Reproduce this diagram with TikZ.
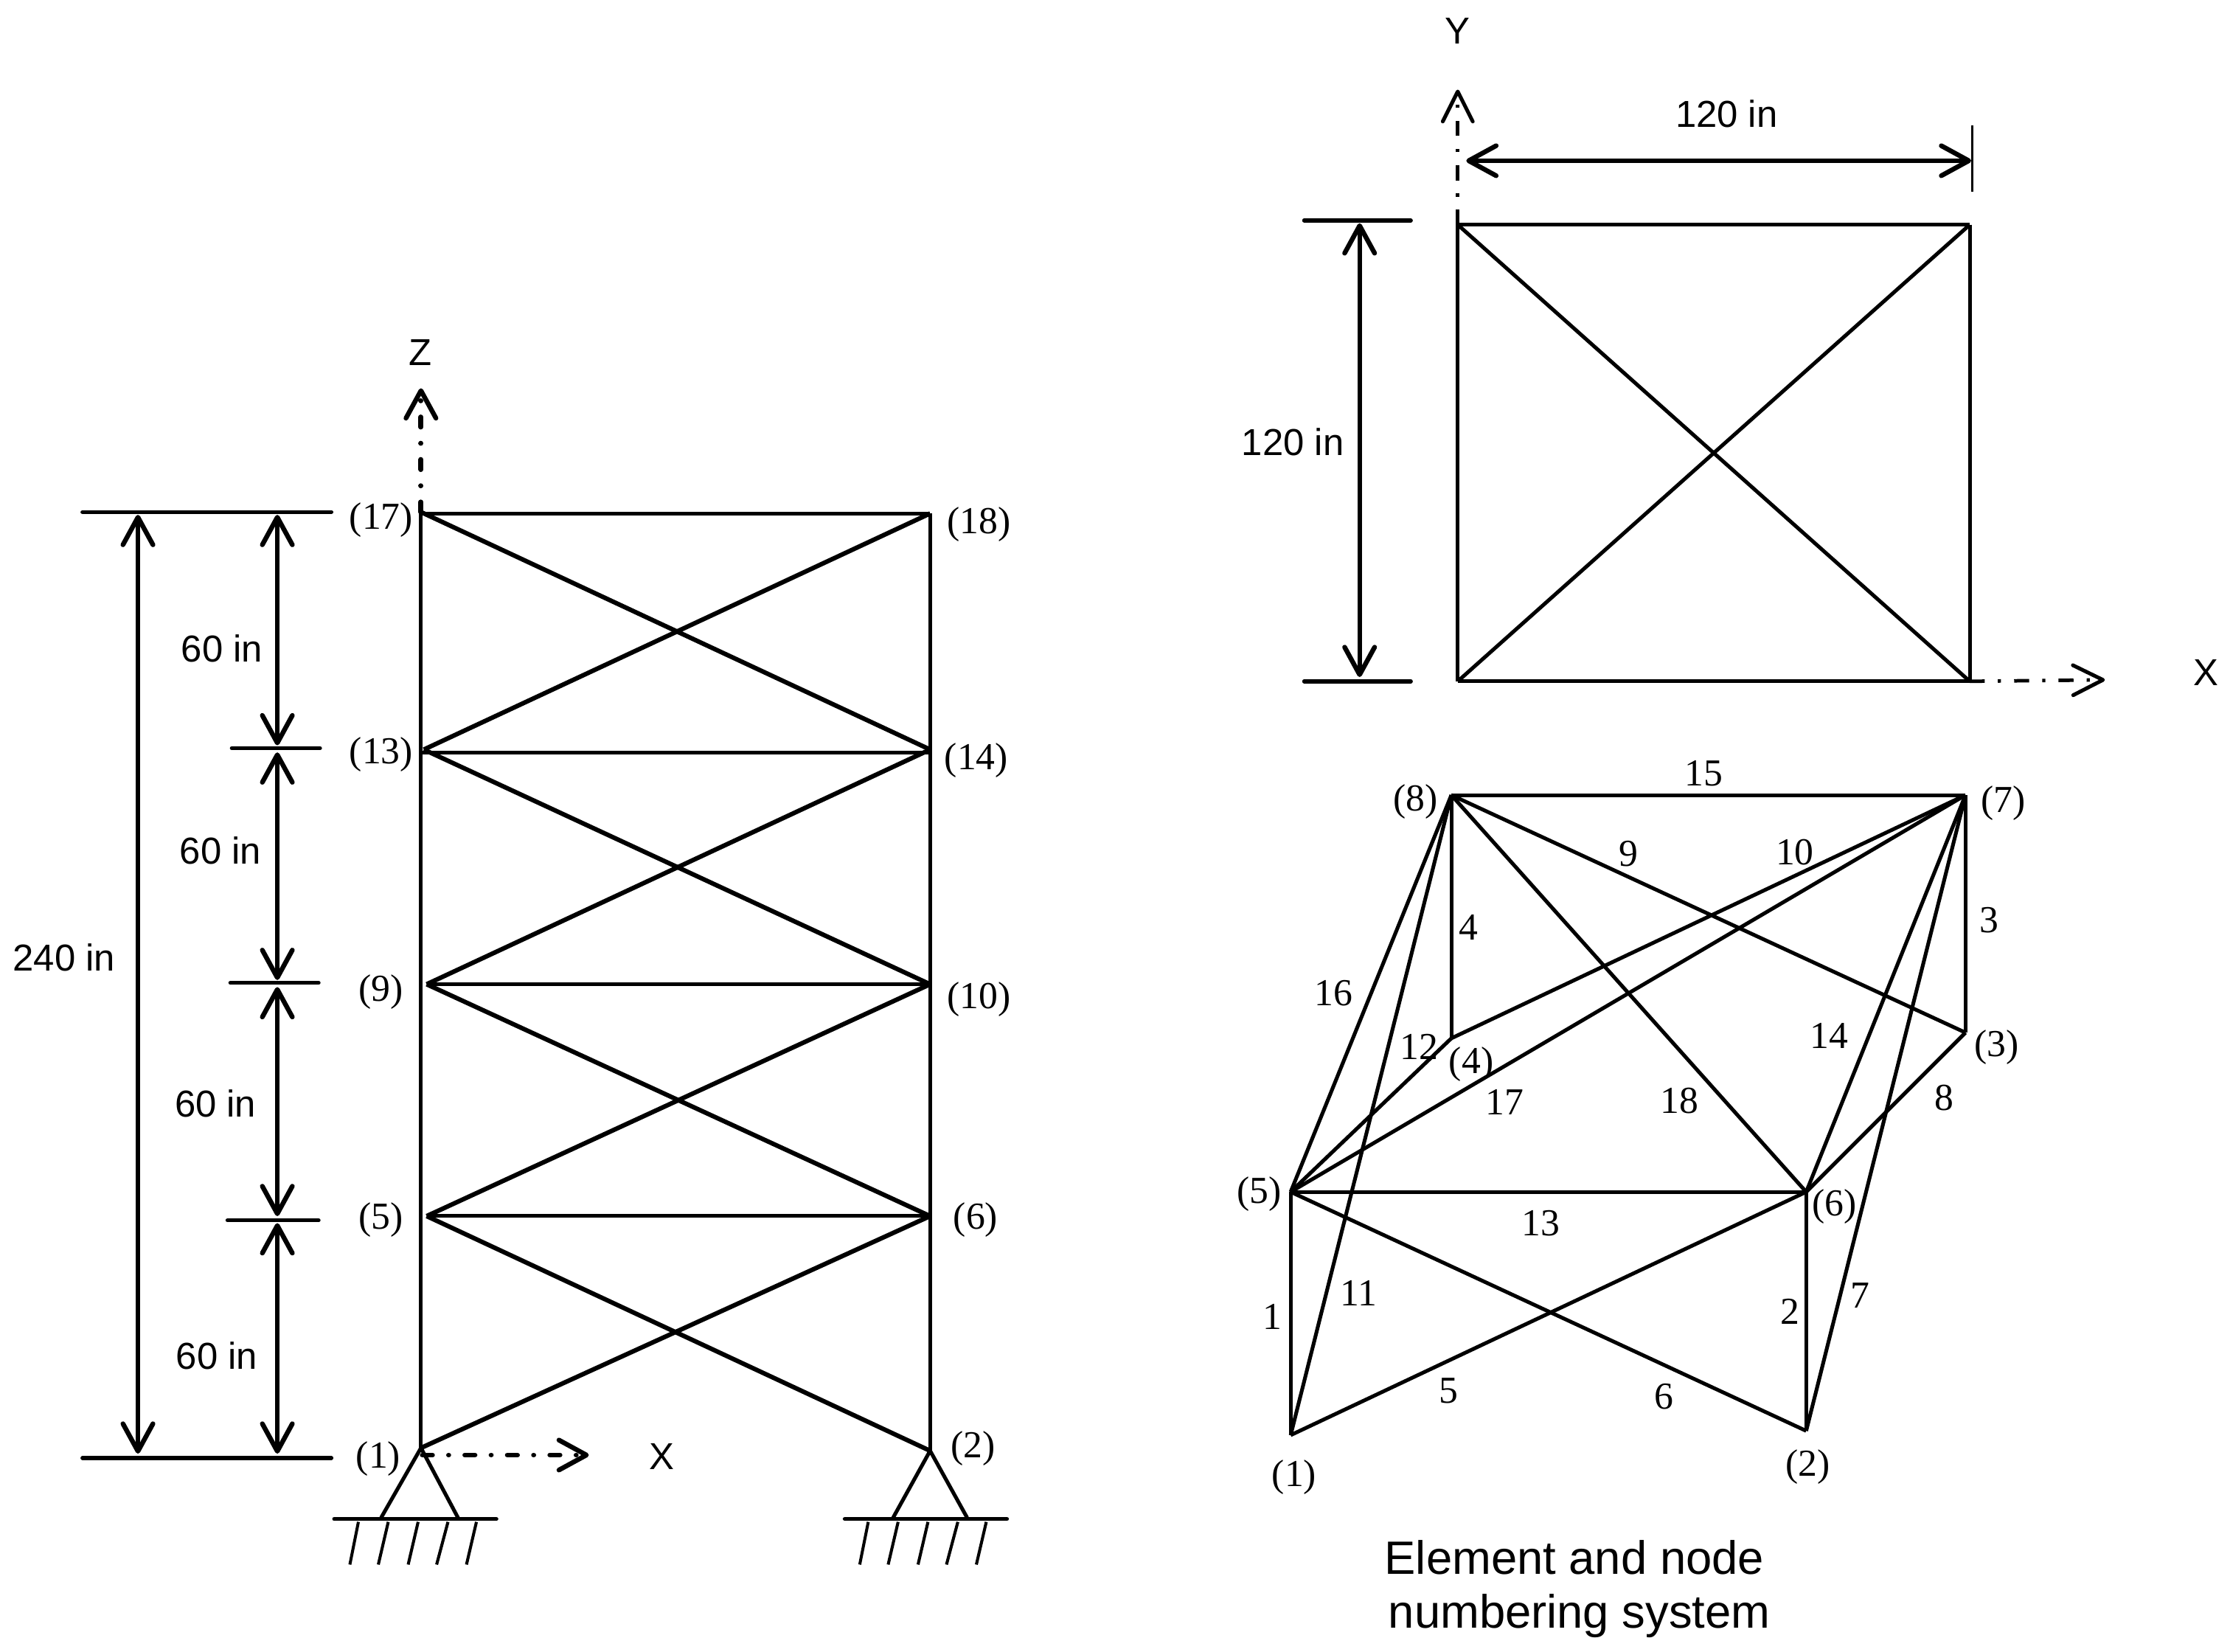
\documentclass[tikz,border=0pt]{standalone}
\usepackage{fontspec}
\setmainfont{Liberation Serif}
\setsansfont{Liberation Sans}
\usetikzlibrary{arrows.meta}
\tikzset{
  member/.style={line width=3pt,black},
  thickmember/.style={line width=3.6pt,black},
  extline/.style={line width=3.2pt,black,line cap=round},
  tickline/.style={line width=1.8pt,black},
  hatchline/.style={line width=2.4pt,black},
  dimarrow/.style={line width=3.6pt,black,{Straight Barb[length=22pt,width=24pt,line width=3.8pt,round]}-{Straight Barb[length=22pt,width=24pt,line width=3.8pt,round]}},
  axisarrow/.style={line width=4pt,black,line cap=round,dash pattern=on 8pt off 13pt on 0.01pt off 13pt,-{Straight Barb[length=22pt,width=24pt,line width=3.8pt,round]}},
  axisthin/.style={line width=2.8pt,black,dash pattern=on 12pt off 10.5pt on 2.5pt off 10.5pt,-{Straight Barb[length=24pt,width=24pt,line width=3pt,round]}},
  sanslabel/.style={font=\sffamily\fontsize{30}{30}\selectfont,inner sep=0pt,text=black},
  seriflabel/.style={font=\fontsize{30.5}{30.5}\selectfont,inner sep=0pt,text=black},
  captionlabel/.style={font=\sffamily\fontsize{37.4}{37.4}\selectfont,inner sep=0pt,text=black},
}
\begin{document}
\begin{tikzpicture}[x=0.04cm,y=-0.04cm]
\useasboundingbox (0,0) rectangle (1568,1161);

% ---- left frame
\foreach \n/\x/\y in {n1/296/1018,n2/654/1020,n5/300/855,n6/654/855,n9/300/692,n10/654/692,
  n13/298/527,n14/654/527,n17/296/360,n18/654/361,
  c1/296/1018,c17/296/361,h13a/296/529,h13b/654/529,d18/654/361,
  a1/268/1067,b1/322/1067,a2/628/1067,b2/680/1067,o1/297/1023,o1x/414/1023,o17/296/360,o17z/296/273}
  \coordinate (\n) at (\x,\y);

\foreach \a/\b in {c1/c17,n2/n18,c17/n18,h13a/h13b,n9/n10,n5/n6}
  \draw[member] (\a) -- (\b);
\foreach \a/\b in {n17/n14,n18/n13,n13/n10,n14/n9,n9/n6,n10/n5,n5/n2,n6/n1}
  \draw[thickmember] (\a) -- (\b);

% supports
\draw[member,line join=miter] (a1) -- (n1) -- (b1);
\draw[member,line join=miter] (a2) -- (n2) -- (b2);
\coordinate (g1a) at (235,1068); \coordinate (g1b) at (349,1068);
\coordinate (g2a) at (594,1068); \coordinate (g2b) at (708,1068);
\draw[extline] (g1a) -- (g1b);
\draw[extline] (g2a) -- (g2b);
\foreach \t/\b in {252/246,273/266,294/287,315/307,335/328}{
  \coordinate (ht) at (\t,1070); \coordinate (hb) at (\b,1100);
  \draw[hatchline] (ht) -- (hb);
  \coordinate (ht) at (\t+358.5,1070); \coordinate (hb) at (\b+358.5,1100);
  \draw[hatchline] (ht) -- (hb);
}

% axes of left frame
\draw[axisarrow] (o1) -- (o1x);
\draw[axisarrow] (o17) -- (o17z);

% dimension lines of left frame
\foreach \n/\x/\y in {e1a/58/360,e1b/233/360,e2a/58/1025,e2b/233/1025,e3a/163/526,e3b/225/526,e4a/162/691,e4b/224/691,e5a/160/858,e5b/224/858,
  d1a/97/362,d1b/97/1022,d2a/195/362,d2b/195/524,d3a/195/529,d3b/195/689,d4a/195/694,d4b/195/855,d5a/195/860,d5b/195/1022}
  \coordinate (\n) at (\x,\y);
\foreach \a/\b in {e1a/e1b,e2a/e2b,e3a/e3b,e4a/e4b,e5a/e5b}
  \draw[extline] (\a) -- (\b);
\foreach \a/\b in {d1a/d1b,d2a/d2b,d3a/d3b,d4a/d4b,d5a/d5b}
  \draw[dimarrow] (\a) -- (\b);

% ---- plan view
\foreach \n/\x/\y in {p1/1025/158,p2/1385/158,p3/1385/479,p4/1025/479,
  py/1025/63,px/1480/478,q1/917/155,q2/992/155,q3/917/479,q4/992/479,
  v1/956/157,v2/956/476,h1/1031/113,h2/1386/113,t1/1387/88,t2/1387/135}
  \coordinate (\n) at (\x,\y);
\foreach \a/\b in {p1/p2,p2/p3,p3/p4,p4/p1,p1/p3,p2/p4}
  \draw[member] (\a) -- (\b);
\draw[axisthin] (p1) -- (py);
\draw[axisthin] (p3) -- (px);
\draw[extline] (q1) -- (q2);
\draw[extline] (q3) -- (q4);
\draw[dimarrow] (v1) -- (v2);
\draw[dimarrow] (h1) -- (h2);
\draw[tickline] (t1) -- (t2);

% ---- element numbering view
\foreach \n/\x/\y in {m8/1020.5/559,m7/1382/559,m4/1020.5/730,m3/1382/726,m5/907.5/838,m6/1270/838,m1/907.5/1009,m2/1270/1006}
  \coordinate (\n) at (\x,\y);
\foreach \a/\b in {m5/m1,m6/m2,m7/m3,m8/m4,m1/m6,m5/m2,m7/m2,m6/m3,m8/m3,m4/m7,m1/m8,m5/m4,m5/m6,m6/m7,m8/m7,m5/m8,m5/m7,m8/m6}
  \draw[member] (\a) -- (\b);

% ---- labels
\foreach \n/\x/\y/\t in {
  s1/45/673/240 in,s2/156/456/60 in,s3/155/598/60 in,s4/151.5/776/60 in,s5/152.5/953/60 in,
  s6/295.5/248/Z,s7/465.5/1024/X,s8/1025/22/Y,s9/1551/473/X,s10/1214/80/120 in,s11/909/311/120 in}
  \node[sanslabel] (\n) at (\x,\y) {\t};
\foreach \n/\x/\y/\t in {
  f17/268/365.5/(17),f18/688.5/368.5/(18),f13/268/530.5/(13),f14/686.5/534.5/(14),f9/268/697.5/(9),f10/688.5/702.5/(10),
  f5/268/857.5/(5),f6/686/857.5/(6),f1/266/1025.5/(1),f2/684/1018.5/(2),
  g8/995.5/563.5/(8),g7/1408.5/564.5/(7),g4/1034.5/748.5/(4),g3/1404/736.5/(3),g5/885.5/839.5/(5),g6/1290/848.5/(6),g1/910/1038.5/(1),g2/1271/1031.5/(2),
  k15/1198/544/15,k9/1145/600/9,k10/1262/599/10,k3/1398.5/647/3,k4/1032.5/652/4,k16/937.5/698/16,k12/998/736/12,
  k14/1286/728/14,k17/1058/775/17,k18/1181/774/18,k8/1367/772/8,k13/1083.5/860/13,k1/894.5/926/1,k11/955.5/909/11,
  k2/1258.5/922/2,k7/1308/911/7,k5/1018.5/978/5,k6/1170/982/6}
  \node[seriflabel] (\n) at (\x,\y) {\t};
\node[captionlabel] (c1a) at (1107,1095) {Element and node};
\node[captionlabel] (c2a) at (1110.5,1136) {numbering system};
\end{tikzpicture}
\end{document}
